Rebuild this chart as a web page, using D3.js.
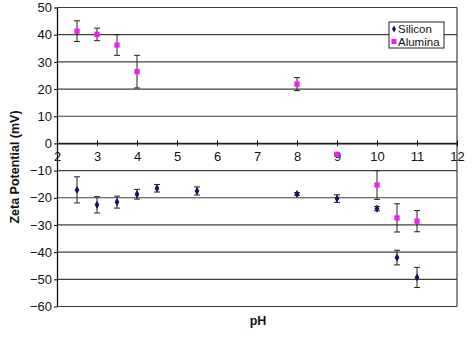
<!DOCTYPE html>
<html>
<head>
<meta charset="utf-8">
<script src="https://cdn.jsdelivr.net/npm/d3@7"></script>
<style>
  body { margin: 0; background: #fff; }
  text { font-family: "Liberation Sans", Arial, sans-serif; }
</style>
</head>
<body>
<script>
// pH values and zeta potentials
var siliconPH  = [2.5, 3, 3.5, 4, 4.5, 5.5, 8, 9, 10, 10.5, 11];
var siliconZ   = [-17.1, -22.6, -21.6, -18.7, -16.5, -17.5, -18.6, -20.3, -24.0, -42.0, -49.3];
var siliconErr = [4.8, 3.0, 2.2, 1.8, 1.4, 1.5, 0.5, 1.4, 0.8, 2.7, 3.7];

var aluminaPH  = [2.5, 3, 3.5, 4, 8, 9, 10, 10.5, 11];
var aluminaZ   = [41.3, 40.1, 36.2, 26.4, 21.8, -4.0, -15.3, -27.4, -28.6];
var aluminaErr = [3.8, 2.3, 3.8, 6.0, 2.4, 0.3, 5.3, 5.2, 3.9];

var xTicks = [2, 3, 4, 5, 6, 7, 8, 9, 10, 11, 12];
var yTicks = [50, 40, 30, 20, 10, 0, -10, -20, -30, -40, -50, -60];

var svg = d3.select("body")
  .append("svg")
    .attr("width", 474)
    .attr("height", 341);

var x = d3.scaleLinear().domain([2, 12]).range([57, 457]);
var y = d3.scaleLinear().domain([-60, 50]).range([306.5, 7.5]);

// gridlines
svg.append("g")
  .selectAll("line")
  .data(yTicks)
  .enter()
  .append("line")
    .attr("x1", x(2))
    .attr("x2", x(12))
    .attr("y1", function(d){ return y(d); })
    .attr("y2", function(d){ return y(d); })
    .attr("stroke", "#404040")
    .attr("stroke-width", 1.2);

// right border
svg.append("line")
  .attr("x1", x(12)).attr("x2", x(12))
  .attr("y1", y(50)).attr("y2", y(-60))
  .attr("stroke", "#404040")
  .attr("stroke-width", 1.2);

// y axis
var yAxis = svg.append("g")
  .attr("transform", "translate(" + x(2) + ",0)")
  .call(d3.axisLeft(y).tickValues(yTicks).tickSize(3).tickSizeOuter(0));
yAxis.select(".domain").attr("stroke", "#111").attr("stroke-width", 1.3);
yAxis.selectAll("text").attr("font-size", 13).attr("fill", "#111")
  .attr("font-family", "Liberation Sans, Arial, sans-serif").attr("x", -5);

// x axis at zero
var xAxis = svg.append("g")
  .attr("transform", "translate(0," + y(0) + ")")
  .call(d3.axisBottom(x).tickValues(xTicks).tickSize(3).tickSizeOuter(0));
xAxis.select(".domain").attr("stroke", "#111").attr("stroke-width", 1.3);
xAxis.selectAll("line").attr("y1", -3).attr("y2", 3);
xAxis.selectAll("text").attr("font-size", 13).attr("fill", "#111")
  .attr("font-family", "Liberation Sans, Arial, sans-serif").attr("y", 8);

// error bars + markers
function drawSeries(ph, z, err, color, shape, size) {
  var data = ph.map(function(p, i){ return { x: p, z: z[i], e: err[i] }; });
  var g = svg.append("g");
  var bars = g.selectAll(".err")
    .data(data)
    .enter()
    .append("g")
    .attr("class", "err");
  bars.append("line")
    .attr("x1", function(d){ return x(d.x); })
    .attr("x2", function(d){ return x(d.x); })
    .attr("y1", function(d){ return y(d.z + d.e); })
    .attr("y2", function(d){ return y(d.z - d.e); })
    .attr("stroke", "#222").attr("stroke-width", 1);
  [1, -1].forEach(function(s){
    bars.append("line")
      .attr("x1", function(d){ return x(d.x) - 3; })
      .attr("x2", function(d){ return x(d.x) + 3; })
      .attr("y1", function(d){ return y(d.z + s * d.e); })
      .attr("y2", function(d){ return y(d.z + s * d.e); })
      .attr("stroke", "#222").attr("stroke-width", 1);
  });
  g.selectAll(".pt")
    .data(data)
    .enter()
    .append("path")
    .attr("class", "pt")
    .attr("d", d3.symbol().type(shape).size(size))
    .attr("transform", function(d){ return "translate(" + x(d.x) + "," + y(d.z) + ")"; })
    .attr("fill", color);
}

drawSeries(siliconPH, siliconZ, siliconErr, "#141466", d3.symbolDiamond, 20);
drawSeries(aluminaPH, aluminaZ, aluminaErr, "#f21df2", d3.symbolSquare, 28);

// legend
var legend = svg.append("g").attr("transform", "translate(389,22)");
legend.append("rect")
  .attr("width", 55).attr("height", 26)
  .attr("fill", "#fff").attr("stroke", "#222").attr("stroke-width", 1);
legend.append("path")
  .attr("d", d3.symbol().type(d3.symbolDiamond).size(14))
  .attr("transform", "translate(5,7)")
  .attr("fill", "#141466");
legend.append("text")
  .attr("x", 9).attr("y", 11)
  .attr("font-size", 11.5).attr("fill", "#111")
  .text("Silicon");
legend.append("rect")
  .attr("x", 2.5).attr("y", 17).attr("width", 5).attr("height", 5)
  .attr("fill", "#f21df2");
legend.append("text")
  .attr("x", 9).attr("y", 23.5)
  .attr("font-size", 11.5).attr("fill", "#111")
  .text("Alumina");

// axis titles
svg.append("text")
  .attr("transform", "translate(19,167) rotate(-90)")
  .attr("text-anchor", "middle")
  .attr("font-size", 12.5).attr("font-weight", "bold").attr("fill", "#111")
  .text("Zeta Potential (mV)");

svg.append("text")
  .attr("x", 258).attr("y", 325)
  .attr("text-anchor", "middle")
  .attr("font-size", 12.5).attr("font-weight", "bold").attr("fill", "#111")
  .text("pH");
</script>
</body>
</html>
